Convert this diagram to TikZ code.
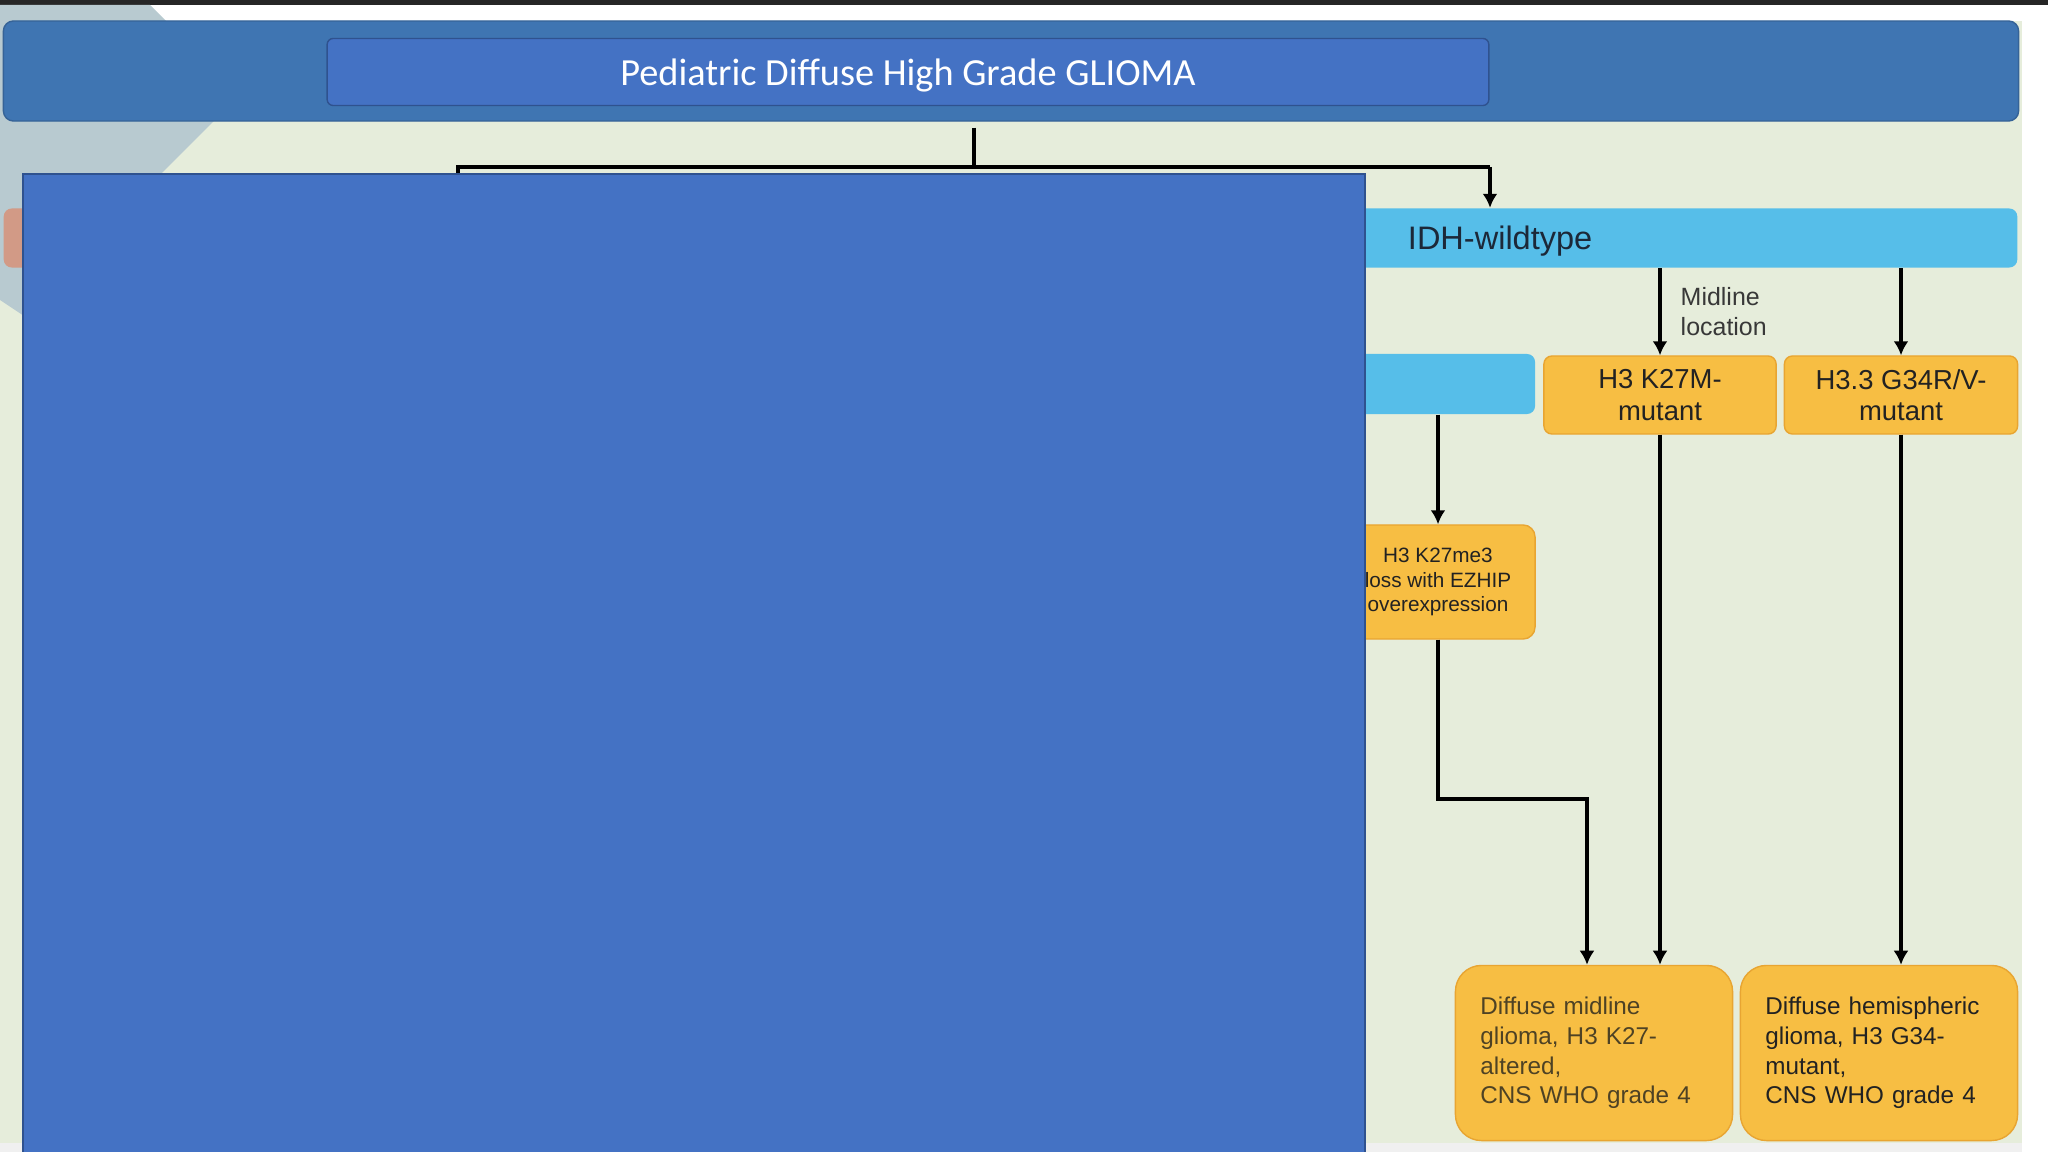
\documentclass[tikz,border=0pt]{standalone}
\usepackage{fontspec}
\setmainfont{Liberation Sans}
\newfontfamily\titlefont{Carlito}
\usetikzlibrary{arrows.meta,positioning,calc}

\definecolor{bandblue}{RGB}{63,117,178}
\definecolor{boxblue}{RGB}{68,114,196}
\definecolor{edgeblue}{RGB}{47,82,143}
\definecolor{skyblue}{RGB}{86,190,233}
\definecolor{amber}{RGB}{247,190,67}
\definecolor{amberedge}{RGB}{232,165,50}
\definecolor{paper}{RGB}{230,237,219}
\definecolor{slate}{RGB}{184,202,208}
\definecolor{salmon}{RGB}{210,154,134}
\definecolor{ink}{RGB}{34,34,34}
\definecolor{olive}{RGB}{78,66,36}

\begin{document}
\begin{tikzpicture}[
  x=0.01cm,y=-0.01cm,
  band/.style={fill=bandblue,draw=bandblue!85!black,rounded corners=0.1cm,
               minimum width=20.14cm,minimum height=1cm},
  ttl/.style={fill=boxblue,draw=edgeblue,rounded corners=0.06cm,minimum
              width=11.61cm,minimum height=0.67cm,text=white,text depth=0pt,
              font=\titlefont\fontsize{10.9}{12}\selectfont},
  sky/.style={fill=skyblue,rounded corners=0.08cm,inner sep=0pt},
  amb/.style={fill=amber,draw=amberedge,rounded corners=0.08cm,align=center,
              text=ink,inner sep=0pt},
  res/.style={fill=amber,draw=amberedge,rounded corners=0.26cm,minimum
              width=2.77cm,minimum height=1.75cm,inner xsep=0.25cm,
              text width=2.27cm,align=left,font=\fontsize{6.9}{8.4}\selectfont},
  arr/.style={-{Latex[length=1.4mm,width=1.5mm]},line width=1pt},
  trunk/.style={line width=1.2pt}
]
\useasboundingbox (0,0) rectangle (2048,1152);
\fill[white] (0,0) rectangle (2048,1152);
\fill[paper] (0,21) rectangle (2022,1143);
\fill[black!6] (0,1143) rectangle (2022,1152);
\fill[black!85] (0,0) rectangle (2048,5);
\fill[slate] (0,5) -- (150,5) -- (240,95) -- (100,235) -- (30,320) -- (0,300) -- cycle;

\node[band] (hdr) at (1011,71) {};
\node[ttl] (title) at (908,72) {Pediatric Diffuse High Grade GLIOMA};

\node[fill=salmon,rounded corners=0.08cm,minimum width=9.08cm,minimum
      height=0.59cm] (mut) at (458,238) {};
\node[sky,anchor=east,minimum width=7.18cm,minimum height=0.59cm,text
      width=5cm,inner xsep=1.09cm,align=left,text depth=0pt,
      text={rgb,255:red,28;green,40;blue,56},
      font=\fontsize{9.25}{11}\selectfont] (wt) at (2018,238) {IDH-wildtype};
\node[sky,minimum width=1.94cm,minimum height=0.6cm] (nonmid) at (1438,384) {};
\node[amb,minimum width=2.32cm,minimum height=0.78cm,
      font=\fontsize{7.8}{8.9}\selectfont] (k27m) at (1660,395) {H3 K27M-\\mutant};
\node[amb,minimum width=2.33cm,minimum height=0.78cm,
      font=\fontsize{7.8}{8.9}\selectfont] (g34) at (1901,395) {H3.3 G34R/V-\\mutant};
\node[amb,rounded corners=0.12cm,minimum width=1.94cm,minimum height=1.14cm,
      font=\fontsize{5.9}{6.9}\selectfont] (ezhip) at (1438,582)
      {H3 K27me3\\loss with EZHIP\\overexpression};
\node[res,text=olive] (dmg) at (1594,1053)
      {Diffuse midline\\glioma, H3 K27-\\altered,\\CNS WHO grade 4};
\node[res,text=ink] (dhg) at (1879,1053)
      {Diffuse hemispheric\\glioma, H3 G34-\\mutant,\\CNS WHO grade 4};
\node[anchor=west,inner sep=0pt,align=left,text=ink!90,
      font=\fontsize{7.1}{8.5}\selectfont] (midlbl) at (1680,312) {Midline\\location};

\coordinate (split) at (974,167);
\coordinate (wtin) at (1490,167);
\coordinate (elbow) at (1587,799);

\draw[trunk] ([yshift=-0.06cm]hdr.south -| split) -- (split);
\draw[arr,trunk] (split) -| (mut);
\draw[trunk] (split) -- (wtin);
\draw[arr] (wtin) -- (wtin |- wt.north);
\draw[arr] (k27m.north |- wt.south) -- (k27m);
\draw[arr] (g34.north |- wt.south) -- (g34);
\draw[arr] (nonmid) -- (ezhip);
\draw[arr] (ezhip) |- (elbow) -- (elbow |- dmg.north);
\draw[arr] (k27m) -- (k27m |- dmg.north);
\draw[arr] (g34) -- (g34 |- dhg.north);

\draw[fill=boxblue,draw=edgeblue,line width=0.6pt] (23,174) rectangle (1365,1160);
\end{tikzpicture}
\end{document}
